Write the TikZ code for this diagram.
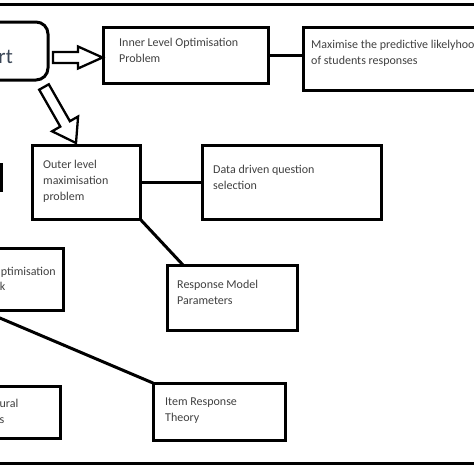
\documentclass[tikz,border=0pt]{standalone}
\usepackage{fontspec}
\setmainfont{Carlito}
\definecolor{textgrey}{HTML}{404040}
\definecolor{startblue}{HTML}{3A4656}
\begin{document}
\begin{tikzpicture}[x=1pt,y=-1pt,
  box/.style={draw, line width=3pt, inner sep=0pt, outer sep=0pt},
  txt/.style={anchor=base west, align=left, inner sep=0pt, text=textgrey, font=\fontsize{12}{16}\selectfont},
  hollow/.style={draw, line width=2.3pt, fill=white, line join=miter},
  link/.style={line width=3pt},
  frameline/.style={line width=3.5pt}]
\useasboundingbox (0,0) rectangle (474,474);
\clip (0,0) rectangle (474,474);
% frame lines
\coordinate (fl) at (-5,4.5); \coordinate (fr) at (480,4.5);
\draw[frameline] (fl) -- (fr);
\coordinate (bl) at (-5,463.5); \coordinate (br) at (480,463.5);
\draw[frameline] (bl) -- (br);
% start box
\node[box, rounded corners=12pt, minimum width=108pt, minimum height=58pt] (start) at (-6,51) {};
\node[anchor=base east, inner sep=0pt, text=startblue, font=\fontsize{21}{24}\selectfont] (starttext) at (13,63) {rt};
% boxes (multi-line text: base anchor = baseline of last line)
\node[box, minimum width=165pt, minimum height=56pt] (inner) at (185.5,55) {};
\node[txt] (innertext) at (119,62.5) {Inner Level Optimisation\\Problem};
\node[box, minimum width=220pt, minimum height=63pt] (max) at (413,58.5) {};
\node[txt] (maxtext) at (311,64.5) {Maximise the predictive likelyhoo\\of students responses};
\node[box, minimum width=108pt, minimum height=74pt] (outer) at (86,182) {};
\node[txt] (outertext) at (43,200) {Outer level\\maximisation\\problem};
\node[box, minimum width=179pt, minimum height=74pt] (data) at (291.5,182) {};
\node[txt] (datatext) at (213,189) {Data driven question\\selection};
\node[box, minimum width=130pt, minimum height=65pt] (resp) at (232,297.5) {};
\node[txt] (resptext) at (177,304) {Response Model\\Parameters};
\node[box, minimum width=132pt, minimum height=57pt] (item) at (219,411.5) {};
\node[txt] (itemtext) at (165,421) {Item Response\\Theory};
\node[box, minimum width=143pt, minimum height=62pt] (optim) at (-8.5,279) {};
\node[txt, anchor=base east] (optimtext1) at (56,275) {ptimisation};
\node[txt, anchor=base east] (optimtext2) at (5.5,290) {k};
\node[box, minimum width=140pt, minimum height=52pt] (neural) at (-10,412) {};
\node[txt, anchor=base east] (neuraltext1) at (18.5,407.5) {ural};
\node[txt, anchor=base east] (neuraltext2) at (4.5,423) {s};
% stray mark at left edge
\coordinate (m1) at (1.5,163); \coordinate (m2) at (1.5,192);
\draw[line width=3pt] (m1) -- (m2);
% connectors
\draw[link] (inner.east) -- (max.west |- inner.east);
\draw[link] (outer.east) -- (data.west);
\coordinate (respin) at (183,265);
\draw[link] (outer.south east) -- (respin);
\coordinate (optout) at (-19,310);
\draw[link] (optout) -- (item.north west);
% hollow arrows
\draw[hollow] (53,52) -- (78,52) -- (78,46.5) -- (102.5,57.5) -- (78,68.5) -- (78,63) -- (53,63) -- cycle;
\draw[hollow] (48.8,84.3) -- (69.9,121.2) -- (78.1,116.5) -- (76,143) -- (52.1,131.3) -- (60.3,126.6) -- (39.2,89.7) -- cycle;
\end{tikzpicture}
\end{document}
